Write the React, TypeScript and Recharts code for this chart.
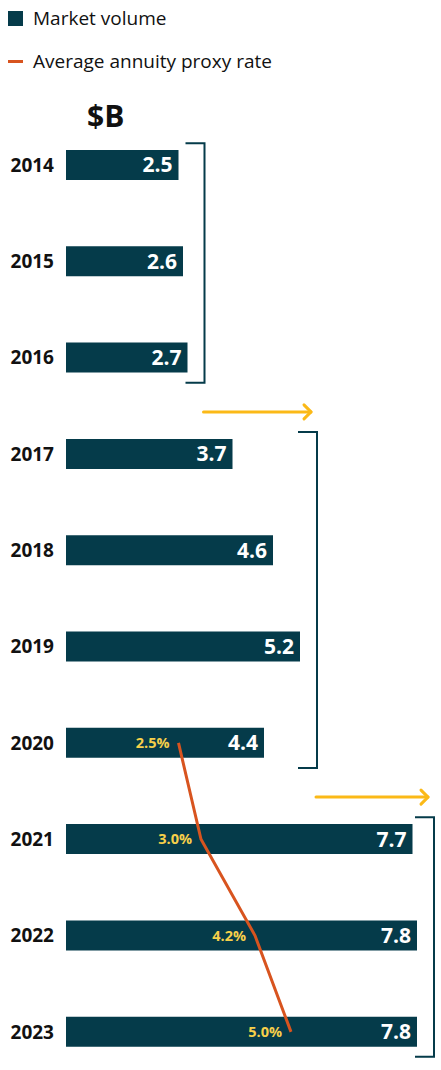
import React from 'react';
import {
  ComposedChart,
  Bar,
  Line,
  XAxis,
  YAxis,
  LabelList,
  ReferenceLine,
} from 'recharts';

const years = ['2014', '2015', '2016', '2017', '2018', '2019', '2020', '2021', '2022', '2023'];
const volume = [2.5, 2.6, 2.7, 3.7, 4.6, 5.2, 4.4, 7.7, 7.8, 7.8];
const rate: (number | null)[] = [null, null, null, null, null, null, 2.5, 3.0, 4.2, 5.0];

// groups of years bracketed together
const groupFirst = ['2014', '2017', '2021'];
const groupLast = ['2016', '2020', '2023'];
const groupMax = [2.7, 5.2, 7.8];

const NAVY = '#053b4a';
const ORANGE = '#d8541f';
const YELLOW = '#fbb917';
const LABEL_YELLOW = '#f6d04a';
const FONT = '"Open Sans", sans-serif';

const data = years.map((y, i) => ({ year: y, volume: volume[i], rate: rate[i] }));

const BracketShape = (props: any) => {
  const { x1, y1, y2 } = props;
  if (x1 == null || y1 == null || y2 == null) return null;
  const xa = x1 - 2;
  const xb = Math.min(x1 + 17, 438);
  const ya = Math.min(y1, y2) - 22;
  const yb = Math.max(y1, y2) + 25;
  return (
    <path
      d={`M${xa},${ya} H${xb} V${yb} H${xa}`}
      fill="none"
      stroke={NAVY}
      strokeWidth={2}
    />
  );
};

const ArrowShape = (props: any) => {
  const { x1, y1, x2, y2 } = props;
  if (x1 == null || y1 == null || x2 == null || y2 == null) return null;
  const xs = x1 + 16;
  const xe = Math.min(x2 + 11, 436);
  const y = (y1 + y2) / 2 + 6;
  return (
    <g>
      <path d={`M${xs},${y} H${xe}`} stroke={YELLOW} strokeWidth={3} strokeLinecap="round" fill="none" />
      <path
        d={`M${xe - 7},${y - 7} L${xe},${y} L${xe - 7},${y + 7}`}
        stroke={YELLOW}
        strokeWidth={3}
        strokeLinecap="round"
        strokeLinejoin="round"
        fill="none"
      />
    </g>
  );
};

const RateLabel = (props: any) => {
  const { x, y, value } = props;
  if (value == null || x == null || y == null) return null;
  return (
    <text
      x={x - 9}
      y={y + 5}
      textAnchor="end"
      fill={LABEL_YELLOW}
      fontSize={14.5}
      fontWeight={700}
      fontFamily={FONT}
    >
      {`${Number(value).toFixed(1)}%`}
    </text>
  );
};

export default function App() {
  return (
    <div style={{ position: 'absolute', left: 0, top: 0, width: 441, height: 1080, fontFamily: FONT }}>
      <style>{`html,body{overflow:hidden;}`}</style>
      {/* Legend */}
      <div style={{ position: 'absolute', left: 8, top: 5, color: '#111', fontSize: 19 }}>
        <div style={{ display: 'flex', alignItems: 'center', height: 26 }}>
          <span style={{ display: 'inline-block', width: 15, height: 15, background: NAVY, marginRight: 10 }} />
          <span>Market volume</span>
        </div>
        <div style={{ display: 'flex', alignItems: 'center', height: 26, marginTop: 17 }}>
          <span style={{ display: 'inline-block', width: 15, height: 3, background: ORANGE, marginRight: 10 }} />
          <span>Average annuity proxy rate</span>
        </div>
      </div>
      <div
        style={{
          position: 'absolute',
          left: 87,
          top: 97,
          fontSize: 30,
          fontWeight: 700,
          color: '#111',
          lineHeight: '38px',
        }}
      >
        $B
      </div>
      <div style={{ position: 'absolute', left: 0, top: 0 }}>
        <ComposedChart
          width={441}
          height={1080}
          data={data}
          layout="vertical"
          margin={{ top: 117, right: 15, bottom: 0, left: 6 }}
          barCategoryGap={0}
        >
          <XAxis type="number" domain={[0, 8]} hide allowDataOverflow />
          <YAxis
            type="category"
            dataKey="year"
            width={60}
            axisLine={false}
            tickLine={false}
            tickSize={0}
            tickMargin={12}
            tick={{ fill: '#111', fontSize: 19, fontWeight: 700, fontFamily: FONT }}
          />
          <Bar dataKey="volume" fill={NAVY} barSize={30} isAnimationActive={false}>
            <LabelList
              dataKey="volume"
              position="insideRight"
              offset={6}
              fill="#fff"
              fontSize={21}
              fontWeight={700}
              fontFamily={FONT}
              formatter={(v: any) => Number(v).toFixed(1)}
            />
          </Bar>
          <Line
            dataKey="rate"
            type="linear"
            stroke={ORANGE}
            strokeWidth={3}
            dot={false}
            activeDot={false}
            connectNulls={false}
            isAnimationActive={false}
          >
            <LabelList dataKey="rate" content={RateLabel} />
          </Line>
          {groupFirst.map((g, i) => (
            <ReferenceLine
              key={`br-${g}`}
              segment={[
                { x: groupMax[i], y: g },
                { x: groupMax[i], y: groupLast[i] },
              ]}
              shape={BracketShape}
              ifOverflow="visible"
            />
          ))}
          {groupFirst.slice(1).map((g, i) => (
            <ReferenceLine
              key={`ar-${g}`}
              segment={[
                { x: groupMax[i], y: groupLast[i] },
                { x: groupMax[i + 1], y: g },
              ]}
              shape={ArrowShape}
              ifOverflow="visible"
            />
          ))}
        </ComposedChart>
      </div>
    </div>
  );
}
